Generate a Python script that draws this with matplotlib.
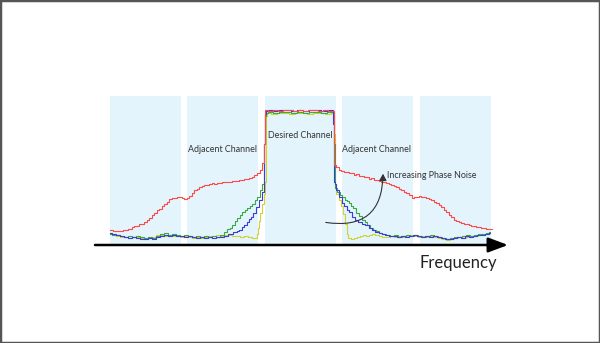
import matplotlib.pyplot as plt
from matplotlib.patches import Rectangle, FancyArrowPatch

plt.rcParams['font.family'] = ['Lato', 'DejaVu Sans']

# channel grid (frequency offset from carrier) and panel height
channel_centers = [-155, -78, 0, 77, 155]
channel_width = 71
panel_top = 148

# power spectra: frequency offset and relative level
red_f = [-190, -185, -180, -175, -170, -167, -165, -162, -160, -157, -155, -152, -150, -147,
         -145, -142, -140, -137, -135, -132, -130, -127, -125, -122, -120, -117, -115, -112,
         -110, -107, -105, -102, -100, -97, -95, -92, -90, -87, -85, -82, -80, -77, -75, -72,
         -70, -67, -65, -62, -60, -57, -55, -52, -50, -47, -45, -42, -39, -37, -35.8, -35.2,
         -34, -30, -25, -20, -15, -10, -5, 0, 5, 10, 15, 20, 25, 30, 33.4, 34, 34.5,
         37, 40, 42, 45, 47, 50, 52, 55, 57, 60, 62, 65, 67, 70, 72, 75, 77, 80, 82, 85, 87,
         90, 92, 95, 97, 100, 102, 105, 107, 110, 113, 115, 117, 120, 122, 125, 127, 130, 132,
         135, 137, 140, 142, 145, 147, 150, 152, 155, 157, 160, 162, 165, 167, 170, 172, 175,
         177, 180, 182, 185, 187, 190, 192]
red_L = [14, 13, 13, 14, 15, 17, 18, 18, 20, 20, 22, 24, 26, 29,
         31, 34, 35, 38, 40, 42, 45, 46, 46, 47, 47, 46, 45, 46,
         48, 51, 54, 55, 57, 58, 59, 59, 60, 61, 60, 61, 61, 62, 62, 62,
         62, 63, 63, 63, 64, 64, 65, 65, 66, 67, 69, 71, 74, 81, 100, 130,
         134, 133, 134, 133, 134, 134, 133, 134, 133, 134, 134, 133, 134, 133, 133, 104, 79,
         77, 74, 73, 72, 72, 71, 71, 69, 70, 68, 68, 67, 67, 65, 66, 64, 64, 63, 62, 62, 61,
         60, 59, 58, 57, 55, 54, 52, 51, 49, 46, 47, 47, 48, 47, 47, 46, 45, 44,
         42, 41, 39, 37, 34, 32, 29, 27, 24, 23, 22, 21, 20, 20, 19, 18, 18,
         17, 17, 16, 16, 15, 15, 15]

green_f = [-190, -186, -182, -178, -174, -170, -166, -162, -158, -154, -150, -146, -142, -138,
           -134, -130, -126, -122, -118, -114, -110, -106, -102, -98, -94, -90, -86, -82, -78,
           -75, -72, -69, -67, -64, -62, -59, -57, -54, -52, -49, -47, -44, -42, -39, -37, -36,
           -35.4, -35, -34, -30, -24, -18, -12, -6, 0, 6, 12, 18, 24, 30, 33, 33.8, 34.4,
           36, 38, 41, 43, 46, 48, 50, 52, 54, 57, 60, 63, 66, 68, 71, 74, 77, 80, 84, 88, 92,
           96, 100, 104, 108, 112, 116, 120, 124, 128, 132, 136, 140, 144, 148, 152, 156, 160,
           164, 168, 172, 176, 180, 184, 188, 190]
green_L = [10, 9, 9, 8, 7, 8, 7, 8, 7, 6, 7, 6, 8, 10,
           11, 9, 10, 9, 8, 9, 8, 7, 8, 7, 8, 7, 8, 7, 9,
           12, 15, 16, 19, 23, 26, 29, 32, 34, 36, 38, 40, 44, 47, 54, 60, 70,
           100, 128, 131, 132, 131, 132, 132, 131, 132, 131, 132, 132, 131, 132, 132, 128, 100,
           56, 52, 49, 47, 44, 43, 41, 38, 36, 31, 28, 24, 22, 19, 16, 14, 13, 11, 10, 9, 8,
           9, 7, 8, 9, 8, 9, 8, 7, 8, 9, 8, 7, 6, 5, 6, 7, 7,
           8, 9, 8, 9, 10, 10, 11, 12]

blue_f = [-190, -186, -182, -178, -174, -170, -166, -162, -158, -154, -150, -146, -142, -138,
          -134, -130, -126, -122, -118, -114, -110, -106, -102, -98, -94, -90, -86, -82, -78,
          -74, -70, -65, -62, -60, -57, -55, -52, -50, -48, -46, -43, -40, -37, -35.8, -35.4,
          -35, -34, -30, -24, -18, -12, -6, 0, 6, 12, 18, 24, 30, 33, 33.8, 34, 35, 37, 40,
          43, 45, 48, 50, 53, 56, 60, 63, 67, 70, 73, 77, 80, 83, 87, 91, 95, 99, 103, 107,
          111, 115, 119, 123, 127, 131, 135, 139, 143, 147, 151, 155, 159, 163, 167, 171, 175,
          179, 183, 187, 190]
blue_L = [11, 10, 9, 8, 7, 6, 7, 6, 5, 5, 6, 5, 7, 8,
          9, 8, 9, 8, 8, 7, 8, 7, 6, 7, 6, 7, 6, 7, 7,
          8, 10, 12, 13, 14, 17, 19, 22, 25, 27, 31, 37, 44, 52, 62, 100,
          130, 133, 134, 133, 134, 134, 133, 134, 133, 134, 134, 133, 134, 134, 120, 62, 60, 54, 47,
          41, 38, 34, 32, 27, 24, 22, 20, 19, 16, 14, 12, 11, 10, 9, 8, 8, 7, 8, 7,
          8, 9, 8, 7, 8, 7, 8, 7, 6, 5, 5, 6, 7, 6, 8, 7, 8,
          9, 9, 10, 11]

yellow_f = [-190, -186, -182, -178, -174, -170, -166, -162, -158, -154, -150, -146, -142, -138,
            -134, -130, -126, -122, -118, -114, -110, -106, -102, -98, -94, -90, -86, -82, -78,
            -74, -70, -66, -62, -58, -54, -50, -46, -44, -43, -42, -41, -39, -37, -36, -34.6,
            -34, -33.5, -32, -26, -20, -14, -8, -2, 4, 10, 16, 22, 28, 33, 34, 35, 37, 40,
            42, 44, 46, 47, 49, 52, 55, 58, 61, 64, 67, 70, 73, 77, 80, 84, 88, 92, 96, 100,
            104, 108, 112, 116, 120, 124, 128, 132, 136, 140, 144, 148, 152, 156, 160, 164,
            168, 172, 176, 180, 184, 188, 190]
yellow_L = [10, 9, 8, 7, 7, 6, 7, 7, 6, 5, 6, 7, 9, 9,
            8, 9, 8, 8, 7, 8, 7, 6, 7, 6, 7, 8, 8, 9, 8,
            9, 9, 8, 8, 7, 8, 7, 6, 6, 10, 16, 23, 31, 40, 50, 62,
            100, 128, 131, 130, 131, 131, 130, 131, 131, 130, 131, 131, 130, 131, 110, 57, 50, 44,
            38, 30, 20, 10, 6, 5, 6, 7, 8, 9, 8, 9, 10, 9, 8, 7, 7, 8, 7, 8,
            7, 8, 9, 8, 7, 8, 7, 8, 7, 6, 5, 4, 5, 6, 7, 6,
            7, 8, 8, 9, 10, 10, 11]

fig = plt.figure(figsize=(6, 3.43), dpi=100)
ax = fig.add_axes([0, 0, 1, 1])
ax.set_xlim(-300, 300)
ax.set_ylim(-99, 244)
ax.axis('off')

# light blue channel panels
for c in channel_centers:
    ax.add_patch(Rectangle((c - channel_width / 2, 0), channel_width, panel_top,
                           facecolor='#e4f4fc', edgecolor='none', zorder=0))

# measured traces, drawn as small steps like a swept analyser display
ax.plot(yellow_f, yellow_L, color='#d2d232', lw=0.8, zorder=2, drawstyle='steps-mid')
ax.plot(green_f, green_L, color='#3aaa48', lw=0.8, zorder=3, drawstyle='steps-mid')
ax.plot(blue_f, blue_L, color='#3c3cdc', lw=0.8, zorder=4, drawstyle='steps-mid')
ax.plot(red_f, red_L, color='#ff4a4a', lw=0.8, zorder=5, drawstyle='steps-mid')

# frequency axis arrow
ax.annotate('', xy=(208, -1), xytext=(-205, -1),
            arrowprops=dict(arrowstyle='-|>,head_length=1.2,head_width=0.45',
                            color='black', lw=1.8, shrinkA=0, shrinkB=0), zorder=6)
ax.text(158, -19, 'Frequency', fontsize=12, color='#222222', ha='center', va='center')

ax.text(-78, 95, 'Adjacent Channel', fontsize=6.4, color='#333333', ha='center', va='center')
ax.text(77, 95, 'Adjacent Channel', fontsize=6.4, color='#333333', ha='center', va='center')
ax.text(0, 108, 'Desired Channel', fontsize=6.4, color='#333333', ha='center', va='center')
ax.text(87, 69, 'Increasing Phase Noise', fontsize=6.4, color='#333333', ha='left', va='center')

arrow = FancyArrowPatch((23, 22), (83, 73), connectionstyle='arc3,rad=0.6',
                        arrowstyle='-|>,head_length=4,head_width=2.2',
                        color='#333333', lw=0.8, zorder=7)
ax.add_patch(arrow)

# frame around the whole figure
fig.patches.append(Rectangle((0, 0), 1, 1, transform=fig.transFigure, fill=False,
                             edgecolor='#555555', lw=2.5))

fig.savefig('out.png', dpi=100)
